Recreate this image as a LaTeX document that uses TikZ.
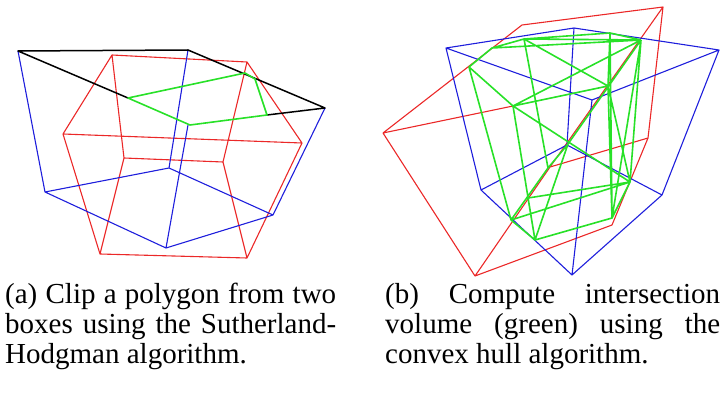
\documentclass[tikz,border=0pt]{standalone}
\usepackage{fontspec}
\setmainfont{Liberation Serif}
\begin{document}
\begin{tikzpicture}[x=1pt,y=-1pt,line join=round,
  rd/.style={draw={rgb,255:red,235;green,40;blue,40},line width=1.1pt},
  bl/.style={draw={rgb,255:red,30;green,30;blue,220},line width=1.1pt},
  gr/.style={draw={rgb,255:red,40;green,225;blue,40},line width=1.6pt},
  bk/.style={draw=black,line width=1.5pt},
  captxt/.style={anchor=base west,inner sep=0pt,font=\fontsize{29}{30}\selectfont}]
\useasboundingbox (0,0) rectangle (725,414);
% ---------- left panel ----------
\foreach \n/\x/\y in {B1/18/51,B2/188/50,B3/325/108,B4/188/125,B5/45/192,B6/169/168,B7/273/215,B8/166/248,
  R1/112/55,R2/247/62,R3/302/143,R4/63/134,R5/124/158,R6/223/162,R7/247/258,R8/100/254,
  P1/128/98,P2/245/73,P3/255/79,P4/267/115,P5/190/125}
  \coordinate (\n) at (\x,\y);
\draw[rd] (R1)--(R2)--(R3)--(R4)--cycle (R5)--(R6)--(R7)--(R8)--cycle
  (R1)--(R5) (R2)--(R6) (R3)--(R7) (R4)--(R8);
\draw[bl] (B5)--(B6)--(B7)--(B8)--cycle (B1)--(B5) (B2)--(B6) (B3)--(B7) (B4)--(B8);
\draw[bk] (P1)--(B1)--(B2)--(B3)--(P4);
\draw[gr] (P1)--(P2)--(P3)--(P4)--(P5)--cycle;
% ---------- right panel ----------
\foreach \n/\x/\y in {Q1/446/48,Q2/574/28,Q3/719/50,Q4/592/100,Q5/481/190,Q6/567/145,Q7/662/195,Q8/572/275,
  A/383/133,B/522/25,C/663/7,D/648/138,E/475/276,F/612/225,G/513/106,H/550/167}
  \coordinate (\n) at (\x,\y);
\foreach \n/\x/\y in {g1/469/67,g2/492/48,g3/524/39,g4/610/33,g5/641/40,g6/513/106,g7/608/86,
  g8/568/144,g9/548/168,g10/630/182,g11/511/220,g12/535/240,g13/612/218,g15/528/198}
  \coordinate (\n) at (\x,\y);
\draw[rd] (A)--(B)--(C)--(D)--(F)--(E)--cycle (A)--(G) (C)--(H) (D)--(H)--(E);
\draw[bl] (Q1)--(Q2)--(Q3)--(Q4)--cycle (Q5)--(Q6)--(Q7)--(Q8)--cycle
  (Q1)--(Q5) (Q2)--(Q6) (Q3)--(Q7) (Q4)--(Q8);
\draw[gr] (g1)--(g2)--(g3)--(g4)--(g5) (g2)--(g5) (g3)--(g5)
  (g1)--(g6) (g1)--(g11) (g6)--(g5) (g6)--(g7) (g6)--(g12) (g6)--(g10)
  (g3)--(g7) (g3)--(g9) (g4)--(g7) (g7)--(g13) (g5)--(g8) (g5)--(g10)
  (g8)--(g9) (g8)--(g12) (g9)--(g11) (g11)--(g12)--(g13)--(g10)
  (g11)--(g10) (g15)--(g10) (g15)--(g12) (g7)--(g10) (g4)--(g13) (g5)--(g13);
% ---------- captions ----------
\node[captxt] (c1) at (5,303) {\makebox[331pt][s]{(a) Clip a polygon from two}};
\node[captxt] (c2) at (5,333) {\makebox[331pt][s]{boxes using the Sutherland-}};
\node[captxt] (c3) at (5,363) {Hodgman algorithm.};
\node[captxt] (d1) at (385,303) {\makebox[335pt][s]{(b) Compute intersection}};
\node[captxt] (d2) at (385,333) {\makebox[335pt][s]{volume (green) using the}};
\node[captxt] (d3) at (385,363) {convex hull algorithm.};
\end{tikzpicture}
\end{document}
